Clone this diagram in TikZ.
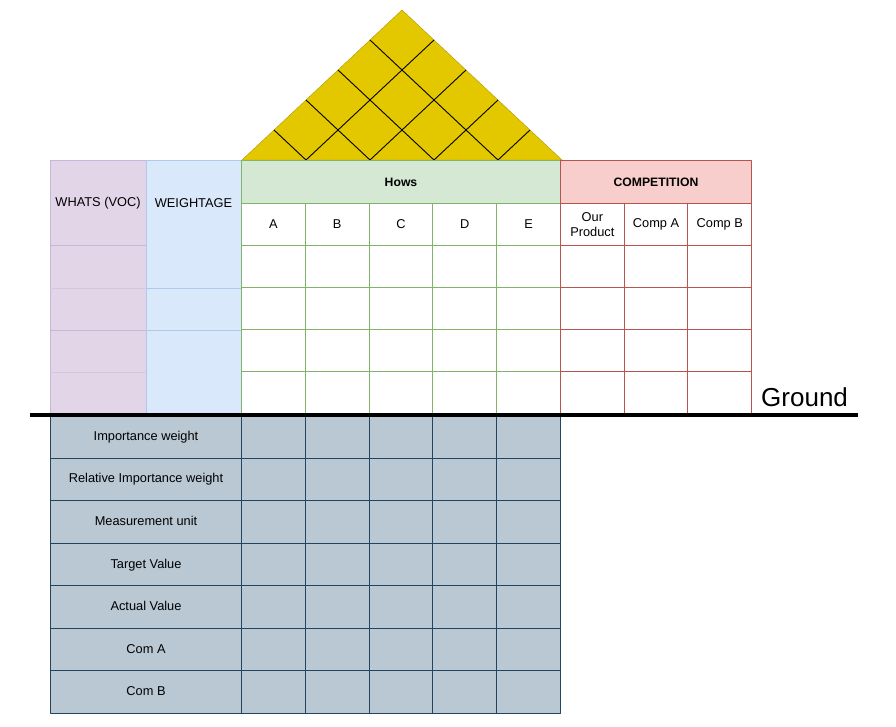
\documentclass[tikz,border=0pt]{standalone}
\usepackage{fontspec}
\setmainfont{Liberation Sans}
\usetikzlibrary{calc,positioning}
\definecolor{roofFill}{HTML}{E3C800}
\definecolor{roofLine}{HTML}{B09500}
\definecolor{whatsFill}{HTML}{E1D5E7}
\definecolor{whatsLine}{HTML}{C2B9DA}
\definecolor{wgtFill}{HTML}{DAE8FC}
\definecolor{wgtLine}{HTML}{B0C8EA}
\definecolor{howFill}{HTML}{D5E8D4}
\definecolor{howLine}{HTML}{82B366}
\definecolor{compFill}{HTML}{F8CECC}
\definecolor{compLine}{HTML}{B85450}
\definecolor{baseFill}{HTML}{BAC8D3}
\definecolor{baseLine}{HTML}{23445D}
\begin{document}
\begin{tikzpicture}[x=1pt,y=-1pt,line join=round,font=\fontsize{12.8}{15}\selectfont,
	cell/.style={draw,anchor=north west,inner sep=0pt,align=center,line width=1pt},
	head/.style={cell,minimum height=43pt,font=\fontsize{12.2}{14}\selectfont\bfseries},
	how/.style={cell,draw=howLine,minimum width=63.8pt,minimum height=42pt,text height=0.72em,text depth=0pt},
	comp/.style={cell,draw=compLine,minimum width=63.7pt,minimum height=42pt},
	base/.style={cell,draw=baseLine,fill=baseFill,minimum height=42.55pt,text height=0.72em,text depth=0pt}]
	\def \hx{241};
	\def \cx{560};
	\def \gy{415};
	\useasboundingbox (0,0) rectangle (896,726);
	\path
	(242,160) coordinate (L)
	(562,160) coordinate (R)
	(402,10) coordinate (T)
	;
	\filldraw[fill=roofFill,draw=roofLine] (L) -- (T) -- (R) -- cycle;
	\foreach \k in {1,...,4} \draw[line width=0.9pt] ($(T)!\k/5!(R)$) -- ($(L)!\k/5!(R)$) -- ($(L)!\k/5!(T)$);
	\draw[whatsLine,fill=whatsFill] (50,160) rectangle (146,413);
	\draw[wgtLine,fill=wgtFill] (146,160) rectangle (\hx,413);
	\foreach \y in {288,372} \draw[whatsLine!45!whatsFill] (50,\y) -- (146,\y);
	\foreach \y in {245,330} \draw[whatsLine] (50,\y) -- (146,\y);
	\foreach \y in {288,330} \draw[wgtLine] (146,\y) -- (\hx,\y);
	\node (whats) at (98,203) {WHATS (VOC)};
	\node (weight) at (193.5,203) {WEIGHTAGE};
	\node[head,draw=howLine,fill=howFill,minimum width=319pt] (hows) at (\hx,160) {Hows};
	\foreach \n [count=\i from 0] in {A,...,E} {
		\node[how] (how-\n) at (\hx+63.8*\i,203) {\n};
		\foreach \r in {1,...,4} \node[how] (how-\n-\r) at (\hx+63.8*\i,203+42*\r) {};
	}
	\node[head,draw=compLine,fill=compFill,minimum width=191pt] (comp) at (\cx,160) {COMPETITION};
	\foreach \lbl [count=\i from 0] in {Our\\Product,Comp A,Comp B} {
		\node[comp] (comp-\i) at (\cx+63.7*\i,203) {\lbl};
		\foreach \r in {1,...,4} \node[comp] (comp-\i-\r) at (\cx+63.7*\i,203+42*\r) {};
	}
	\foreach \lbl [count=\i from 0] in {Importance weight,Relative Importance weight,Measurement unit,Target Value,Actual Value,Com A,Com B} {
		\node[base,minimum width=191pt] (row-\i) at (50,\gy+42.55*\i) {\lbl};
		\foreach \j in {0,...,4} \node[base,minimum width=63.8pt] (row-\i-\j) at (\hx+63.8*\j,\gy+42.55*\i) {};
	}
	\draw[line width=3.5pt] (30,\gy) coordinate (g1) -- (858,\gy) coordinate (g2);
	\node[anchor=base west,inner sep=0pt,font=\fontsize{26}{30}\selectfont] (ground) at (761,406.5) {Ground};
\end{tikzpicture}
\end{document}
